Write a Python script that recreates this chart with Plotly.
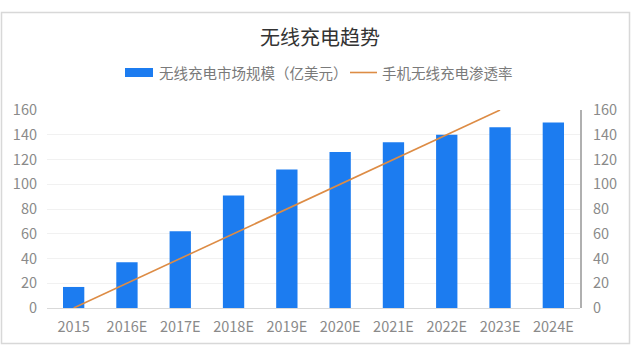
import plotly.graph_objects as go

years = ["2015", "2016E", "2017E", "2018E", "2019E", "2020E", "2021E", "2022E", "2023E", "2024E"]
market_size = [17, 37, 62, 91, 112, 126, 134, 140, 146, 150]
penetration_years = ["2015", "2016E", "2017E", "2018E", "2019E", "2020E", "2021E", "2022E", "2023E"]
penetration = [0, 20, 40, 60, 80, 100, 120, 140, 160]
y_ticks = [0, 20, 40, 60, 80, 100, 120, 140, 160]
bar_name = "无线充电市场规模（亿美元）"
line_name = "手机无线充电渗透率"

FONT = "Noto Sans CJK SC, Microsoft YaHei, sans-serif"
BAR_COLOR = "#1c7cf0"
LINE_COLOR = "#dd8c45"

fig = go.Figure()
fig.add_trace(go.Bar(
    x=years, y=market_size, name=bar_name, showlegend=False,
    marker=dict(color=BAR_COLOR, line=dict(width=0)), width=0.4,
))
fig.add_trace(go.Scatter(
    x=penetration_years, y=penetration, name=line_name, showlegend=False,
    mode="lines", line=dict(color=LINE_COLOR, width=1.6), yaxis="y2",
))

L, R, T, B = 47, 60, 110, 45
W, H = 640, 353
pw, ph = W - L - R, H - T - B

def px(x):
    return (x - L) / pw

def py(y):
    return (H - B - y) / ph

TICKFONT = dict(size=14.5, color="#8a8a8a", family=FONT)

fig.update_layout(
    width=W, height=H,
    margin=dict(l=L, r=R, t=T, b=B, autoexpand=False),
    paper_bgcolor="white", plot_bgcolor="white",
    font=dict(family=FONT, color="#888888", size=14),
    title=dict(text="无线充电趋势", x=0.5, xanchor="center", y=1 - 38 / H, yanchor="middle",
               font=dict(size=20, color="#333333", family=FONT)),
    showlegend=False,
    xaxis=dict(showgrid=False, showline=False, ticks="", tickfont=TICKFONT,
               tickangle=0, ticklabelstandoff=8, fixedrange=True),
    yaxis=dict(range=[0, 160], tickvals=y_ticks, showgrid=True, gridcolor="#f1f1f1",
               zeroline=True, zerolinecolor="#d9d9d9", zerolinewidth=1,
               showline=False, ticks="", ticklen=0, tickfont=TICKFONT, ticklabelstandoff=9),
    yaxis2=dict(range=[0, 160], tickvals=y_ticks, overlaying="y", side="right",
                showgrid=False, zeroline=False, showline=True, linecolor="#b0b0b0", linewidth=2,
                ticks="", tickfont=TICKFONT, ticklabelstandoff=8),
    shapes=[
        dict(type="rect", xref="paper", yref="paper",
             x0=px(1.5), x1=px(629.5), y0=py(343.5), y1=py(12.5),
             line=dict(color="#d8d8d8", width=1.5), fillcolor="rgba(0,0,0,0)", layer="below"),
        dict(type="rect", xref="paper", yref="paper",
             x0=px(125), x1=px(153), y0=py(77), y1=py(68),
             line=dict(width=0), fillcolor=BAR_COLOR),
        dict(type="line", xref="paper", yref="paper",
             x0=px(350), x1=px(377), y0=py(72.5), y1=py(72.5),
             line=dict(color=LINE_COLOR, width=1.6)),
    ],
    annotations=[
        dict(text=bar_name, xref="paper", yref="paper", x=px(157), y=py(72.5),
             xanchor="left", yanchor="middle", showarrow=False,
             font=dict(size=14.5, color="#7a7a7a", family=FONT)),
        dict(text=line_name, xref="paper", yref="paper", x=px(380), y=py(72.5),
             xanchor="left", yanchor="middle", showarrow=False,
             font=dict(size=14.5, color="#7a7a7a", family=FONT)),
    ],
)

fig.write_html("out.html")
